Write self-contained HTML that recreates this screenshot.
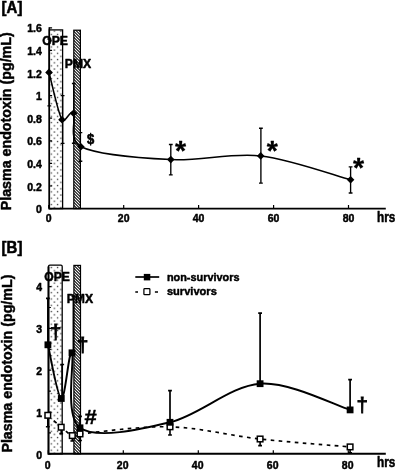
<!DOCTYPE html>
<html lang="en"><head><meta charset="utf-8"><title>Plasma endotoxin</title>
<style>html,body{margin:0;padding:0;background:#fff;}svg{display:block;}text{fill:#000;}</style>
</head><body>
<svg width="397" height="473" viewBox="0 0 397 473">
<defs>
<pattern id="dots" x="54.4" y="163.5" width="6.34" height="6.3" patternUnits="userSpaceOnUse"><rect x="-0.6" y="-0.6" width="1.3" height="1.3" fill="#3a3a3a"/><rect x="5.74" y="-0.6" width="1.3" height="1.3" fill="#3a3a3a"/><rect x="-0.6" y="5.7" width="1.3" height="1.3" fill="#3a3a3a"/><rect x="5.74" y="5.7" width="1.3" height="1.3" fill="#3a3a3a"/><rect x="2.57" y="2.55" width="1.3" height="1.3" fill="#3a3a3a"/></pattern>
<pattern id="hatch" x="74" y="30" width="3" height="3" patternUnits="userSpaceOnUse"><rect width="3" height="3" fill="#000"/><path d="M-1,-1 L4,4 M-1,2 L1,4 M2,-1 L4,1" stroke="#fff" stroke-width="1.12" fill="none"/></pattern>
</defs>
<rect width="397" height="473" fill="#fff"/>
<text transform="translate(1.60,12.90) scale(1,1.077)" font-size="15.00" text-anchor="start" font-family="Liberation Sans, sans-serif" font-weight="bold" stroke="#000" stroke-width="0.50" stroke-linejoin="round" >[A]</text>
<rect x="49.3" y="29.9" width="13.3" height="178.7" fill="url(#dots)" stroke="#000" stroke-width="1.3"/>
<rect x="73.8" y="30.2" width="6.6" height="178.4" fill="url(#hatch)" stroke="#000" stroke-width="1.2"/>
<path d="M49.3,27.2 V208.6 H385.8" stroke="#000" stroke-width="1.6" fill="none"/>
<text transform="translate(41.80,213.10) scale(1,1.077)" font-size="10.50" text-anchor="end" font-family="Liberation Sans, sans-serif" font-weight="bold" stroke="#000" stroke-width="0.45" stroke-linejoin="round" >0</text>
<text transform="translate(41.80,190.50) scale(1,1.077)" font-size="10.50" text-anchor="end" font-family="Liberation Sans, sans-serif" font-weight="bold" stroke="#000" stroke-width="0.45" stroke-linejoin="round" >0.2</text>
<text transform="translate(41.80,167.90) scale(1,1.077)" font-size="10.50" text-anchor="end" font-family="Liberation Sans, sans-serif" font-weight="bold" stroke="#000" stroke-width="0.45" stroke-linejoin="round" >0.4</text>
<text transform="translate(41.80,145.30) scale(1,1.077)" font-size="10.50" text-anchor="end" font-family="Liberation Sans, sans-serif" font-weight="bold" stroke="#000" stroke-width="0.45" stroke-linejoin="round" >0.6</text>
<text transform="translate(41.80,122.70) scale(1,1.077)" font-size="10.50" text-anchor="end" font-family="Liberation Sans, sans-serif" font-weight="bold" stroke="#000" stroke-width="0.45" stroke-linejoin="round" >0.8</text>
<text transform="translate(41.80,100.10) scale(1,1.077)" font-size="10.50" text-anchor="end" font-family="Liberation Sans, sans-serif" font-weight="bold" stroke="#000" stroke-width="0.45" stroke-linejoin="round" >1</text>
<text transform="translate(41.80,77.50) scale(1,1.077)" font-size="10.50" text-anchor="end" font-family="Liberation Sans, sans-serif" font-weight="bold" stroke="#000" stroke-width="0.45" stroke-linejoin="round" >1.2</text>
<text transform="translate(41.80,54.90) scale(1,1.077)" font-size="10.50" text-anchor="end" font-family="Liberation Sans, sans-serif" font-weight="bold" stroke="#000" stroke-width="0.45" stroke-linejoin="round" >1.4</text>
<text transform="translate(41.80,32.30) scale(1,1.077)" font-size="10.50" text-anchor="end" font-family="Liberation Sans, sans-serif" font-weight="bold" stroke="#000" stroke-width="0.45" stroke-linejoin="round" >1.6</text>
<text transform="translate(48.70,222.00) scale(1,1.077)" font-size="10.50" text-anchor="middle" font-family="Liberation Sans, sans-serif" font-weight="bold" stroke="#000" stroke-width="0.45" stroke-linejoin="round" >0</text>
<text transform="translate(123.66,222.00) scale(1,1.077)" font-size="10.50" text-anchor="middle" font-family="Liberation Sans, sans-serif" font-weight="bold" stroke="#000" stroke-width="0.45" stroke-linejoin="round" >20</text>
<text transform="translate(198.62,222.00) scale(1,1.077)" font-size="10.50" text-anchor="middle" font-family="Liberation Sans, sans-serif" font-weight="bold" stroke="#000" stroke-width="0.45" stroke-linejoin="round" >40</text>
<text transform="translate(273.58,222.00) scale(1,1.077)" font-size="10.50" text-anchor="middle" font-family="Liberation Sans, sans-serif" font-weight="bold" stroke="#000" stroke-width="0.45" stroke-linejoin="round" >60</text>
<text transform="translate(348.54,222.00) scale(1,1.077)" font-size="10.50" text-anchor="middle" font-family="Liberation Sans, sans-serif" font-weight="bold" stroke="#000" stroke-width="0.45" stroke-linejoin="round" >80</text>
<path d="M49.3,208.6 h2.8 M49.3,186.0 h2.8 M49.3,163.4 h2.8 M49.3,140.8 h2.8 M49.3,118.2 h2.8 M49.3,95.6 h2.8 M49.3,73.0 h2.8 M49.3,50.4 h2.8 M49.3,27.8 h2.8 M48.7,208.6 v-3.6 M123.7,208.6 v-3.6 M198.6,208.6 v-3.6 M273.6,208.6 v-3.6 M348.5,208.6 v-3.6 " stroke="#000" stroke-width="1.2" fill="none"/>
<text transform="translate(377.00,221.90) scale(1,1.190)" font-size="11.90" text-anchor="start" font-family="Liberation Sans, sans-serif" font-weight="bold" textLength="18.3" lengthAdjust="spacingAndGlyphs" stroke="#000" stroke-width="0.45" stroke-linejoin="round" >hrs</text>
<text transform="translate(11.0,210.3) rotate(-90)" font-size="14" font-family="Liberation Sans, sans-serif" font-weight="bold" stroke="#000" stroke-width="0.45" textLength="178" lengthAdjust="spacingAndGlyphs">Plasma endotoxin (pg/mL)</text>
<path d="M49.3,39.0 V105.8 M47.4,39.0 H51.2 M47.4,105.8 H51.2" stroke="#000" stroke-width="1.35" fill="none"/>
<path d="M62.6,95.6 V143.4 M60.7,95.6 H64.5 M60.7,143.4 H64.5" stroke="#000" stroke-width="1.35" fill="none"/>
<path d="M73.8,83.5 V143.2 M71.9,83.5 H75.7 M71.9,143.2 H75.7" stroke="#000" stroke-width="1.35" fill="none"/>
<path d="M80.4,132.6 V161.2 M78.5,132.6 H82.3 M78.5,161.2 H82.3" stroke="#000" stroke-width="1.35" fill="none"/>
<path d="M170.8,144.5 V174.8 M168.9,144.5 H172.7 M168.9,174.8 H172.7" stroke="#000" stroke-width="1.35" fill="none"/>
<path d="M260.9,128.2 V183.1 M259.0,128.2 H262.8 M259.0,183.1 H262.8" stroke="#000" stroke-width="1.35" fill="none"/>
<path d="M350.6,166.8 V193.0 M348.7,166.8 H352.5 M348.7,193.0 H352.5" stroke="#000" stroke-width="1.35" fill="none"/>
<path d="M49.00,72.40 C51.17,80.28 57.92,112.90 62.00,119.70 C64.92,124.57 70.35,108.70 73.50,113.20 C76.65,117.70 67.58,140.35 80.90,146.70 C97.12,154.43 140.83,158.07 170.80,159.60 C200.77,161.13 230.73,152.53 260.70,155.90 C290.67,159.27 335.62,175.82 350.60,179.80" stroke="#000" stroke-width="1.55" fill="none" stroke-linejoin="round"/>
<path d="M49.0,68.6 L52.8,72.4 L49.0,76.2 L45.2,72.4 Z" fill="#000"/>
<path d="M62.0,115.9 L65.8,119.7 L62.0,123.5 L58.2,119.7 Z" fill="#000"/>
<path d="M73.5,109.4 L77.3,113.2 L73.5,117.0 L69.7,113.2 Z" fill="#000"/>
<path d="M80.9,142.9 L84.7,146.7 L80.9,150.5 L77.1,146.7 Z" fill="#000"/>
<path d="M170.8,155.8 L174.6,159.6 L170.8,163.4 L167.0,159.6 Z" fill="#000"/>
<path d="M260.7,152.1 L264.5,155.9 L260.7,159.7 L256.9,155.9 Z" fill="#000"/>
<path d="M350.6,176.0 L354.4,179.8 L350.6,183.6 L346.8,179.8 Z" fill="#000"/>
<text transform="translate(42.20,44.80) scale(1,1.077)" font-size="12.20" text-anchor="start" font-family="Liberation Sans, sans-serif" font-weight="bold" textLength="25.8" lengthAdjust="spacingAndGlyphs" stroke="#000" stroke-width="0.45" stroke-linejoin="round" >OPE</text>
<text transform="translate(64.80,68.00) scale(1,1.077)" font-size="12.20" text-anchor="start" font-family="Liberation Sans, sans-serif" font-weight="bold" textLength="26.4" lengthAdjust="spacingAndGlyphs" stroke="#000" stroke-width="0.45" stroke-linejoin="round" >PMX</text>
<text transform="translate(87.00,143.70) scale(1,1.077)" font-size="13.00" text-anchor="start" font-family="Liberation Sans, sans-serif" font-weight="bold" stroke="#000" stroke-width="0.60" stroke-linejoin="round" >$</text>
<text transform="translate(180.55,159.55) scale(1,1.000)" font-size="28.50" text-anchor="middle" font-family="Liberation Sans, sans-serif" font-weight="bold" stroke="#000" stroke-width="0.30" stroke-linejoin="round" >*</text>
<text transform="translate(272.30,159.55) scale(1,1.000)" font-size="28.50" text-anchor="middle" font-family="Liberation Sans, sans-serif" font-weight="bold" stroke="#000" stroke-width="0.30" stroke-linejoin="round" >*</text>
<text transform="translate(358.50,177.25) scale(1,1.000)" font-size="28.50" text-anchor="middle" font-family="Liberation Sans, sans-serif" font-weight="bold" stroke="#000" stroke-width="0.30" stroke-linejoin="round" >*</text>
<text transform="translate(1.60,253.20) scale(1,1.077)" font-size="15.00" text-anchor="start" font-family="Liberation Sans, sans-serif" font-weight="bold" stroke="#000" stroke-width="0.50" stroke-linejoin="round" >[B]</text>
<path d="M48.5,453.8 V266.6 Q48.5,265.2 49.9,265.2 H60.9 Q62.2,265.2 62.2,266.6 V453.8 Z" fill="url(#dots)" stroke="#000" stroke-width="1.3"/>
<rect x="73.9" y="265.4" width="6.6" height="188.4" fill="url(#hatch)" stroke="#000" stroke-width="1.2"/>
<path d="M48.5,266.4 V453.8 H385.8" stroke="#000" stroke-width="1.9" fill="none"/>
<text transform="translate(42.00,458.50) scale(1,1.077)" font-size="10.50" text-anchor="end" font-family="Liberation Sans, sans-serif" font-weight="bold" stroke="#000" stroke-width="0.45" stroke-linejoin="round" >0</text>
<text transform="translate(42.00,416.70) scale(1,1.077)" font-size="10.50" text-anchor="end" font-family="Liberation Sans, sans-serif" font-weight="bold" stroke="#000" stroke-width="0.45" stroke-linejoin="round" >1</text>
<text transform="translate(42.00,374.90) scale(1,1.077)" font-size="10.50" text-anchor="end" font-family="Liberation Sans, sans-serif" font-weight="bold" stroke="#000" stroke-width="0.45" stroke-linejoin="round" >2</text>
<text transform="translate(42.00,333.10) scale(1,1.077)" font-size="10.50" text-anchor="end" font-family="Liberation Sans, sans-serif" font-weight="bold" stroke="#000" stroke-width="0.45" stroke-linejoin="round" >3</text>
<text transform="translate(42.00,291.30) scale(1,1.077)" font-size="10.50" text-anchor="end" font-family="Liberation Sans, sans-serif" font-weight="bold" stroke="#000" stroke-width="0.45" stroke-linejoin="round" >4</text>
<text transform="translate(47.70,469.00) scale(1,1.077)" font-size="10.50" text-anchor="middle" font-family="Liberation Sans, sans-serif" font-weight="bold" stroke="#000" stroke-width="0.45" stroke-linejoin="round" >0</text>
<text transform="translate(122.70,469.00) scale(1,1.077)" font-size="10.50" text-anchor="middle" font-family="Liberation Sans, sans-serif" font-weight="bold" stroke="#000" stroke-width="0.45" stroke-linejoin="round" >20</text>
<text transform="translate(197.70,469.00) scale(1,1.077)" font-size="10.50" text-anchor="middle" font-family="Liberation Sans, sans-serif" font-weight="bold" stroke="#000" stroke-width="0.45" stroke-linejoin="round" >40</text>
<text transform="translate(272.70,469.00) scale(1,1.077)" font-size="10.50" text-anchor="middle" font-family="Liberation Sans, sans-serif" font-weight="bold" stroke="#000" stroke-width="0.45" stroke-linejoin="round" >60</text>
<text transform="translate(347.70,469.00) scale(1,1.077)" font-size="10.50" text-anchor="middle" font-family="Liberation Sans, sans-serif" font-weight="bold" stroke="#000" stroke-width="0.45" stroke-linejoin="round" >80</text>
<path d="M48.5,432.9 h2.4 M48.5,391.1 h2.4 M48.5,349.3 h2.4 M48.5,307.5 h2.4 M48.5,453.8 h2.8 M48.5,412.0 h2.8 M48.5,370.2 h2.8 M48.5,328.4 h2.8 M48.5,286.6 h2.8 M48.3,453.8 v-3.6 M123.3,453.8 v-3.6 M198.3,453.8 v-3.6 M273.3,453.8 v-3.6 M348.3,453.8 v-3.6 " stroke="#000" stroke-width="1.2" fill="none"/>
<text transform="translate(377.00,467.20) scale(1,1.190)" font-size="11.90" text-anchor="start" font-family="Liberation Sans, sans-serif" font-weight="bold" textLength="18.3" lengthAdjust="spacingAndGlyphs" stroke="#000" stroke-width="0.45" stroke-linejoin="round" >hrs</text>
<text transform="translate(11.6,452.6) rotate(-90)" font-size="14" font-family="Liberation Sans, sans-serif" font-weight="bold" stroke="#000" stroke-width="0.45" textLength="178" lengthAdjust="spacingAndGlyphs">Plasma endotoxin (pg/mL)</text>
<path d="M47.9,298.3 V344.8 M46.0,298.3 H49.8" stroke="#000" stroke-width="1.70" fill="none"/>
<path d="M62.2,364.5 V398.5 M60.3,364.5 H64.1" stroke="#000" stroke-width="1.70" fill="none"/>
<path d="M73.4,296.5 V352.8 M71.5,296.5 H75.3" stroke="#000" stroke-width="1.70" fill="none"/>
<path d="M80.0,416.3 V427.8 M78.1,416.3 H81.9" stroke="#000" stroke-width="1.70" fill="none"/>
<path d="M170.0,390.6 V422.3 M168.1,390.6 H171.9" stroke="#000" stroke-width="1.70" fill="none"/>
<path d="M260.1,313.2 V383.7 M258.2,313.2 H262.0" stroke="#000" stroke-width="1.70" fill="none"/>
<path d="M350.1,379.6 V409.9 M348.2,379.6 H352.0" stroke="#000" stroke-width="1.70" fill="none"/>
<path d="M47.8,415.3 V426.8 M45.9,426.8 H49.7" stroke="#000" stroke-width="1.60" fill="none"/>
<path d="M61.2,427.2 V433.6 M59.3,433.6 H63.1" stroke="#000" stroke-width="1.60" fill="none"/>
<path d="M72.3,435.6 V441.0 M70.4,441.0 H74.2" stroke="#000" stroke-width="1.60" fill="none"/>
<path d="M80.0,433.9 V440.5 M78.1,440.5 H81.9" stroke="#000" stroke-width="1.60" fill="none"/>
<path d="M170.0,426.8 V435.0 M168.1,435.0 H171.9" stroke="#000" stroke-width="1.60" fill="none"/>
<path d="M260.1,439.0 V445.6 M258.2,445.6 H262.0" stroke="#000" stroke-width="1.60" fill="none"/>
<path d="M350.1,446.9 V452.7 M348.2,452.7 H352.0" stroke="#000" stroke-width="1.60" fill="none"/>
<path d="M47.80,415.30 C50.03,417.28 57.12,423.82 61.20,427.20 C65.28,430.58 69.17,434.48 72.30,435.60 C75.43,436.72 76.62,434.20 80.00,433.90 C96.28,432.43 139.98,425.95 170.00,426.80 C200.02,427.65 230.08,435.65 260.10,439.00 C290.12,442.35 335.10,445.58 350.10,446.90" stroke="#000" stroke-width="1.7" fill="none" stroke-dasharray="3.6,4.4"/>
<path d="M47.90,344.80 C50.13,353.75 57.28,397.17 61.30,398.50 C65.32,399.83 68.88,347.92 72.00,352.80 C75.12,357.68 63.67,416.22 80.00,427.80 C96.33,439.38 139.98,429.65 170.00,422.30 C200.02,414.95 230.08,385.77 260.10,383.70 C290.12,381.63 335.10,405.53 350.10,409.90" stroke="#000" stroke-width="1.95" fill="none" stroke-linejoin="round"/>
<rect x="45.0" y="412.5" width="5.6" height="5.6" fill="#fff" stroke="#000" stroke-width="1.5"/>
<rect x="58.4" y="424.4" width="5.6" height="5.6" fill="#fff" stroke="#000" stroke-width="1.5"/>
<rect x="69.5" y="432.8" width="5.6" height="5.6" fill="#fff" stroke="#000" stroke-width="1.5"/>
<rect x="77.2" y="431.1" width="5.6" height="5.6" fill="#fff" stroke="#000" stroke-width="1.5"/>
<rect x="167.2" y="424.0" width="5.6" height="5.6" fill="#fff" stroke="#000" stroke-width="1.5"/>
<rect x="257.3" y="436.2" width="5.6" height="5.6" fill="#fff" stroke="#000" stroke-width="1.5"/>
<rect x="347.3" y="444.1" width="5.6" height="5.6" fill="#fff" stroke="#000" stroke-width="1.5"/>
<rect x="44.5" y="341.4" width="6.8" height="6.8" fill="#000"/>
<rect x="57.9" y="395.1" width="6.8" height="6.8" fill="#000"/>
<rect x="68.6" y="349.4" width="6.8" height="6.8" fill="#000"/>
<rect x="76.6" y="424.4" width="6.8" height="6.8" fill="#000"/>
<rect x="166.6" y="418.9" width="6.8" height="6.8" fill="#000"/>
<rect x="256.7" y="380.3" width="6.8" height="6.8" fill="#000"/>
<rect x="346.7" y="406.5" width="6.8" height="6.8" fill="#000"/>
<text transform="translate(44.20,281.10) scale(1,1.077)" font-size="12.20" text-anchor="start" font-family="Liberation Sans, sans-serif" font-weight="bold" textLength="25.6" lengthAdjust="spacingAndGlyphs" stroke="#000" stroke-width="0.45" stroke-linejoin="round" >OPE</text>
<text transform="translate(66.70,303.40) scale(1,1.077)" font-size="12.20" text-anchor="start" font-family="Liberation Sans, sans-serif" font-weight="bold" textLength="26.4" lengthAdjust="spacingAndGlyphs" stroke="#000" stroke-width="0.45" stroke-linejoin="round" >PMX</text>
<text transform="translate(84.60,424.30) scale(1,0.920)" font-size="22.00" text-anchor="start" font-family="Liberation Sans, sans-serif" font-weight="bold" stroke="#000" stroke-width="0.50" stroke-linejoin="round" >#</text>
<text x="55.6" y="338.5" font-size="20.5" text-anchor="middle" stroke="#000" stroke-width="0.85" font-family="Liberation Sans, sans-serif">†</text>
<text x="82.7" y="352.2" font-size="20.5" text-anchor="middle" stroke="#000" stroke-width="0.85" font-family="Liberation Sans, sans-serif">†</text>
<text x="362.1" y="411.5" font-size="20.5" text-anchor="middle" stroke="#000" stroke-width="0.85" font-family="Liberation Sans, sans-serif">†</text>
<path d="M135.3,277.0 H159.2" stroke="#000" stroke-width="1.7"/>
<rect x="143.8" y="273.9" width="6.5" height="6.5" fill="#000"/>
<text transform="translate(166.90,280.80) scale(1,1.077)" font-size="10.90" text-anchor="start" font-family="Liberation Sans, sans-serif" font-weight="bold" textLength="72.6" lengthAdjust="spacingAndGlyphs" stroke="#000" stroke-width="0.45" stroke-linejoin="round" >non-survivors</text>
<path d="M135.3,291.9 h2.7 M154.9,291.9 h3.1" stroke="#000" stroke-width="1.5"/>
<rect x="143.9" y="288.7" width="6.0" height="6.0" rx="0.8" fill="#fff" stroke="#000" stroke-width="1.25"/>
<text transform="translate(166.90,295.20) scale(1,1.077)" font-size="10.90" text-anchor="start" font-family="Liberation Sans, sans-serif" font-weight="bold" textLength="49.9" lengthAdjust="spacingAndGlyphs" stroke="#000" stroke-width="0.45" stroke-linejoin="round" >survivors</text>
</svg>
</body></html>
